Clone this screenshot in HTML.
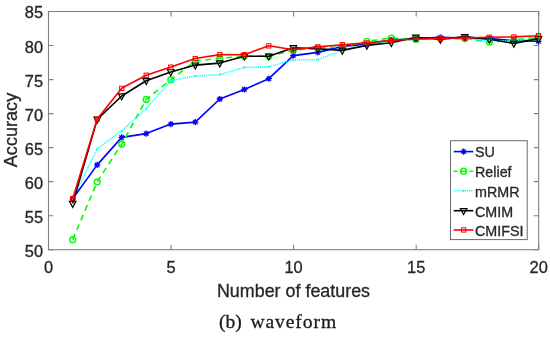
<!DOCTYPE html><html><head><meta charset="utf-8"><title>waveform</title>
<style>html,body{margin:0;padding:0;background:#fff}body{width:550px;height:337px;overflow:hidden;position:relative}svg{position:absolute;left:0;top:0;display:block}text{font-family:"Liberation Sans",Arial,sans-serif;fill:#262626;stroke:#262626;stroke-width:0.3px}.cap{font-family:"Liberation Serif","DejaVu Serif",serif;fill:#1a1a1a;stroke:#1a1a1a;stroke-width:0.3px}</style></head><body>
<svg width="550" height="337" viewBox="0 0 550 337">
<rect x="0" y="0" width="550" height="337" fill="#fff"/>
<g stroke="#808080" stroke-width="1.1" fill="none">
<rect x="48.5" y="11.5" width="490.2" height="238.2"/>
<path d="M48.5 249.7v-4.9M48.5 11.5v4.9"/>
<path d="M171.1 249.7v-4.9M171.1 11.5v4.9"/>
<path d="M293.6 249.7v-4.9M293.6 11.5v4.9"/>
<path d="M416.2 249.7v-4.9M416.2 11.5v4.9"/>
<path d="M538.7 249.7v-4.9M538.7 11.5v4.9"/>
<path d="M48.5 249.7h4.9M538.7 249.7h-4.9"/>
<path d="M48.5 215.7h4.9M538.7 215.7h-4.9"/>
<path d="M48.5 181.6h4.9M538.7 181.6h-4.9"/>
<path d="M48.5 147.6h4.9M538.7 147.6h-4.9"/>
<path d="M48.5 113.6h4.9M538.7 113.6h-4.9"/>
<path d="M48.5 79.6h4.9M538.7 79.6h-4.9"/>
<path d="M48.5 45.5h4.9M538.7 45.5h-4.9"/>
<path d="M48.5 11.5h4.9M538.7 11.5h-4.9"/>
</g>
<g font-size="16.4px">
<text x="43.0" y="257.1" text-anchor="end">50</text>
<text x="43.0" y="223.0" text-anchor="end">55</text>
<text x="43.0" y="188.9" text-anchor="end">60</text>
<text x="43.0" y="154.8" text-anchor="end">65</text>
<text x="43.0" y="120.7" text-anchor="end">70</text>
<text x="43.0" y="86.6" text-anchor="end">75</text>
<text x="43.0" y="52.5" text-anchor="end">80</text>
<text x="43.0" y="18.4" text-anchor="end">85</text>
<text x="48.5" y="272.6" text-anchor="middle">0</text>
<text x="171.1" y="272.6" text-anchor="middle">5</text>
<text x="293.6" y="272.6" text-anchor="middle">10</text>
<text x="416.2" y="272.6" text-anchor="middle">15</text>
<text x="538.7" y="272.6" text-anchor="middle">20</text>
</g>
<text x="293.5" y="297.0" font-size="17.9px" text-anchor="middle">Number of features</text>
<text transform="translate(16.8,130) rotate(-90)" font-size="18.1px" text-anchor="middle">Accuracy</text>
<text class="cap" y="328.0" font-size="19.6px"><tspan x="219.0">(b)</tspan> <tspan x="250.4" letter-spacing="0.9">waveform</tspan></text>
<polyline points="72.7,198.8 97.2,164.9 121.7,137.4 146.2,133.6 170.8,124.1 195.3,122.1 219.8,99.0 244.3,89.5 268.8,78.7 293.3,55.6 317.8,52.4 342.3,46.4 366.8,44.1 391.3,40.0 415.9,38.6 440.4,37.3 464.9,38.0 489.4,38.6 513.9,40.7 538.4,41.3" fill="none" stroke="#0000ff" stroke-width="1.6" stroke-linejoin="round"/>
<path d="M69.6 198.8h6.2M72.7 195.7v6.2M70.5 196.6l4.4 4.4M70.5 201.0l4.4 -4.4" stroke="#0000ff" stroke-width="1.3" fill="none"/>
<path d="M94.1 164.9h6.2M97.2 161.8v6.2M95.0 162.7l4.4 4.4M95.0 167.0l4.4 -4.4" stroke="#0000ff" stroke-width="1.3" fill="none"/>
<path d="M118.6 137.4h6.2M121.7 134.3v6.2M119.5 135.2l4.4 4.4M119.5 139.6l4.4 -4.4" stroke="#0000ff" stroke-width="1.3" fill="none"/>
<path d="M143.1 133.6h6.2M146.2 130.5v6.2M144.0 131.4l4.4 4.4M144.0 135.8l4.4 -4.4" stroke="#0000ff" stroke-width="1.3" fill="none"/>
<path d="M167.7 124.1h6.2M170.8 121.0v6.2M168.6 121.9l4.4 4.4M168.6 126.3l4.4 -4.4" stroke="#0000ff" stroke-width="1.3" fill="none"/>
<path d="M192.2 122.1h6.2M195.3 119.0v6.2M193.1 119.9l4.4 4.4M193.1 124.3l4.4 -4.4" stroke="#0000ff" stroke-width="1.3" fill="none"/>
<path d="M216.7 99.0h6.2M219.8 95.9v6.2M217.6 96.8l4.4 4.4M217.6 101.2l4.4 -4.4" stroke="#0000ff" stroke-width="1.3" fill="none"/>
<path d="M241.2 89.5h6.2M244.3 86.4v6.2M242.1 87.3l4.4 4.4M242.1 91.7l4.4 -4.4" stroke="#0000ff" stroke-width="1.3" fill="none"/>
<path d="M265.7 78.7h6.2M268.8 75.6v6.2M266.6 76.5l4.4 4.4M266.6 80.9l4.4 -4.4" stroke="#0000ff" stroke-width="1.3" fill="none"/>
<path d="M290.2 55.6h6.2M293.3 52.5v6.2M291.1 53.4l4.4 4.4M291.1 57.8l4.4 -4.4" stroke="#0000ff" stroke-width="1.3" fill="none"/>
<path d="M314.7 52.4h6.2M317.8 49.3v6.2M315.6 50.2l4.4 4.4M315.6 54.6l4.4 -4.4" stroke="#0000ff" stroke-width="1.3" fill="none"/>
<path d="M339.2 46.4h6.2M342.3 43.3v6.2M340.1 44.2l4.4 4.4M340.1 48.6l4.4 -4.4" stroke="#0000ff" stroke-width="1.3" fill="none"/>
<path d="M363.7 44.1h6.2M366.8 41.0v6.2M364.6 41.9l4.4 4.4M364.6 46.3l4.4 -4.4" stroke="#0000ff" stroke-width="1.3" fill="none"/>
<path d="M388.2 40.0h6.2M391.3 36.9v6.2M389.1 37.8l4.4 4.4M389.1 42.2l4.4 -4.4" stroke="#0000ff" stroke-width="1.3" fill="none"/>
<path d="M412.8 38.6h6.2M415.9 35.5v6.2M413.7 36.4l4.4 4.4M413.7 40.8l4.4 -4.4" stroke="#0000ff" stroke-width="1.3" fill="none"/>
<path d="M437.3 37.3h6.2M440.4 34.2v6.2M438.2 35.1l4.4 4.4M438.2 39.5l4.4 -4.4" stroke="#0000ff" stroke-width="1.3" fill="none"/>
<path d="M461.8 38.0h6.2M464.9 34.9v6.2M462.7 35.8l4.4 4.4M462.7 40.1l4.4 -4.4" stroke="#0000ff" stroke-width="1.3" fill="none"/>
<path d="M486.3 38.6h6.2M489.4 35.5v6.2M487.2 36.4l4.4 4.4M487.2 40.8l4.4 -4.4" stroke="#0000ff" stroke-width="1.3" fill="none"/>
<path d="M510.8 40.7h6.2M513.9 37.6v6.2M511.7 38.5l4.4 4.4M511.7 42.9l4.4 -4.4" stroke="#0000ff" stroke-width="1.3" fill="none"/>
<path d="M535.3 41.3h6.2M538.4 38.2v6.2M536.2 39.2l4.4 4.4M536.2 43.5l4.4 -4.4" stroke="#0000ff" stroke-width="1.3" fill="none"/>
<polyline points="72.7,239.7 97.2,181.8 121.7,144.1 146.2,99.4 170.8,79.7 195.3,61.0 219.8,58.3 244.3,56.3 268.8,56.3 293.3,50.2 317.8,48.1 342.3,46.8 366.8,41.3 391.3,38.0 415.9,39.3 440.4,38.6 464.9,38.6 489.4,42.0 513.9,40.0 538.4,37.3" fill="none" stroke="#00ff00" stroke-width="1.6" stroke-dasharray="6 4.5" stroke-linejoin="round"/>
<circle cx="72.7" cy="239.7" r="2.9" stroke="#00ff00" stroke-width="1.45" fill="none"/>
<circle cx="97.2" cy="181.8" r="2.9" stroke="#00ff00" stroke-width="1.45" fill="none"/>
<circle cx="121.7" cy="144.1" r="2.9" stroke="#00ff00" stroke-width="1.45" fill="none"/>
<circle cx="146.2" cy="99.4" r="2.9" stroke="#00ff00" stroke-width="1.45" fill="none"/>
<circle cx="170.8" cy="79.7" r="2.9" stroke="#00ff00" stroke-width="1.45" fill="none"/>
<circle cx="195.3" cy="61.0" r="2.9" stroke="#00ff00" stroke-width="1.45" fill="none"/>
<circle cx="219.8" cy="58.3" r="2.9" stroke="#00ff00" stroke-width="1.45" fill="none"/>
<circle cx="244.3" cy="56.3" r="2.9" stroke="#00ff00" stroke-width="1.45" fill="none"/>
<circle cx="268.8" cy="56.3" r="2.9" stroke="#00ff00" stroke-width="1.45" fill="none"/>
<circle cx="293.3" cy="50.2" r="2.9" stroke="#00ff00" stroke-width="1.45" fill="none"/>
<circle cx="317.8" cy="48.1" r="2.9" stroke="#00ff00" stroke-width="1.45" fill="none"/>
<circle cx="342.3" cy="46.8" r="2.9" stroke="#00ff00" stroke-width="1.45" fill="none"/>
<circle cx="366.8" cy="41.3" r="2.9" stroke="#00ff00" stroke-width="1.45" fill="none"/>
<circle cx="391.3" cy="38.0" r="2.9" stroke="#00ff00" stroke-width="1.45" fill="none"/>
<circle cx="415.9" cy="39.3" r="2.9" stroke="#00ff00" stroke-width="1.45" fill="none"/>
<circle cx="440.4" cy="38.6" r="2.9" stroke="#00ff00" stroke-width="1.45" fill="none"/>
<circle cx="464.9" cy="38.6" r="2.9" stroke="#00ff00" stroke-width="1.45" fill="none"/>
<circle cx="489.4" cy="42.0" r="2.9" stroke="#00ff00" stroke-width="1.45" fill="none"/>
<circle cx="513.9" cy="40.0" r="2.9" stroke="#00ff00" stroke-width="1.45" fill="none"/>
<circle cx="538.4" cy="37.3" r="2.9" stroke="#00ff00" stroke-width="1.45" fill="none"/>
<polyline points="72.7,198.8 97.2,148.9 121.7,130.9 146.2,108.5 170.8,80.7 195.3,76.0 219.8,74.6 244.3,67.4 268.8,66.8 293.3,59.7 317.8,59.7 342.3,50.2 366.8,44.1 391.3,40.7 415.9,39.3 440.4,38.6 464.9,38.6 489.4,40.7 513.9,40.7 538.4,38.6" fill="none" stroke="#00ffff" stroke-width="1.6" stroke-dasharray="1 0.9" stroke-linejoin="round"/>
<circle cx="72.7" cy="198.8" r="1.1" fill="#00ffff"/>
<circle cx="97.2" cy="148.9" r="1.1" fill="#00ffff"/>
<circle cx="121.7" cy="130.9" r="1.1" fill="#00ffff"/>
<circle cx="146.2" cy="108.5" r="1.1" fill="#00ffff"/>
<circle cx="170.8" cy="80.7" r="1.1" fill="#00ffff"/>
<circle cx="195.3" cy="76.0" r="1.1" fill="#00ffff"/>
<circle cx="219.8" cy="74.6" r="1.1" fill="#00ffff"/>
<circle cx="244.3" cy="67.4" r="1.1" fill="#00ffff"/>
<circle cx="268.8" cy="66.8" r="1.1" fill="#00ffff"/>
<circle cx="293.3" cy="59.7" r="1.1" fill="#00ffff"/>
<circle cx="317.8" cy="59.7" r="1.1" fill="#00ffff"/>
<circle cx="342.3" cy="50.2" r="1.1" fill="#00ffff"/>
<circle cx="366.8" cy="44.1" r="1.1" fill="#00ffff"/>
<circle cx="391.3" cy="40.7" r="1.1" fill="#00ffff"/>
<circle cx="415.9" cy="39.3" r="1.1" fill="#00ffff"/>
<circle cx="440.4" cy="38.6" r="1.1" fill="#00ffff"/>
<circle cx="464.9" cy="38.6" r="1.1" fill="#00ffff"/>
<circle cx="489.4" cy="40.7" r="1.1" fill="#00ffff"/>
<circle cx="513.9" cy="40.7" r="1.1" fill="#00ffff"/>
<circle cx="538.4" cy="38.6" r="1.1" fill="#00ffff"/>
<polyline points="72.7,203.5 97.2,119.4 121.7,96.0 146.2,80.7 170.8,71.9 195.3,65.1 219.8,63.1 244.3,56.3 268.8,56.3 293.3,47.8 317.8,48.8 342.3,50.4 366.8,45.4 391.3,42.7 415.9,37.3 440.4,39.3 464.9,36.6 489.4,39.3 513.9,43.4 538.4,38.6" fill="none" stroke="#000000" stroke-width="1.6" stroke-linejoin="round"/>
<path d="M69.5 201.4L76.0 201.4L72.7 207.4Z" stroke="#000" stroke-width="1.2" fill="none" stroke-linejoin="miter"/>
<path d="M94.0 117.2L100.5 117.2L97.2 123.2Z" stroke="#000" stroke-width="1.2" fill="none" stroke-linejoin="miter"/>
<path d="M118.5 93.8L125.0 93.8L121.7 99.8Z" stroke="#000" stroke-width="1.2" fill="none" stroke-linejoin="miter"/>
<path d="M143.0 78.6L149.5 78.6L146.2 84.6Z" stroke="#000" stroke-width="1.2" fill="none" stroke-linejoin="miter"/>
<path d="M167.5 69.7L174.0 69.7L170.8 75.7Z" stroke="#000" stroke-width="1.2" fill="none" stroke-linejoin="miter"/>
<path d="M192.0 63.0L198.5 63.0L195.3 68.9Z" stroke="#000" stroke-width="1.2" fill="none" stroke-linejoin="miter"/>
<path d="M216.5 60.9L223.0 60.9L219.8 66.9Z" stroke="#000" stroke-width="1.2" fill="none" stroke-linejoin="miter"/>
<path d="M241.0 54.1L247.5 54.1L244.3 60.1Z" stroke="#000" stroke-width="1.2" fill="none" stroke-linejoin="miter"/>
<path d="M265.5 54.1L272.0 54.1L268.8 60.1Z" stroke="#000" stroke-width="1.2" fill="none" stroke-linejoin="miter"/>
<path d="M290.1 45.7L296.6 45.7L293.3 51.6Z" stroke="#000" stroke-width="1.2" fill="none" stroke-linejoin="miter"/>
<path d="M314.6 46.7L321.1 46.7L317.8 52.7Z" stroke="#000" stroke-width="1.2" fill="none" stroke-linejoin="miter"/>
<path d="M339.1 48.2L345.6 48.2L342.3 54.2Z" stroke="#000" stroke-width="1.2" fill="none" stroke-linejoin="miter"/>
<path d="M363.6 43.3L370.1 43.3L366.8 49.3Z" stroke="#000" stroke-width="1.2" fill="none" stroke-linejoin="miter"/>
<path d="M388.1 40.6L394.6 40.6L391.3 46.6Z" stroke="#000" stroke-width="1.2" fill="none" stroke-linejoin="miter"/>
<path d="M412.6 35.1L419.1 35.1L415.9 41.1Z" stroke="#000" stroke-width="1.2" fill="none" stroke-linejoin="miter"/>
<path d="M437.1 37.2L443.6 37.2L440.4 43.2Z" stroke="#000" stroke-width="1.2" fill="none" stroke-linejoin="miter"/>
<path d="M461.6 34.5L468.1 34.5L464.9 40.4Z" stroke="#000" stroke-width="1.2" fill="none" stroke-linejoin="miter"/>
<path d="M486.1 37.2L492.6 37.2L489.4 43.2Z" stroke="#000" stroke-width="1.2" fill="none" stroke-linejoin="miter"/>
<path d="M510.6 41.2L517.1 41.2L513.9 47.2Z" stroke="#000" stroke-width="1.2" fill="none" stroke-linejoin="miter"/>
<path d="M535.2 36.5L541.7 36.5L538.4 42.5Z" stroke="#000" stroke-width="1.2" fill="none" stroke-linejoin="miter"/>
<polyline points="72.7,198.8 97.2,118.9 121.7,88.3 146.2,75.3 170.8,67.1 195.3,58.5 219.8,54.6 244.3,54.7 268.8,45.8 293.3,49.8 317.8,46.9 342.3,44.7 366.8,42.9 391.3,40.3 415.9,39.3 440.4,38.3 464.9,38.0 489.4,37.3 513.9,36.9 538.4,35.7" fill="none" stroke="#ff0000" stroke-width="1.6" stroke-linejoin="round"/>
<rect x="70.6" y="196.6" width="4.3" height="4.3" stroke="#ff0000" stroke-width="1.0" fill="none"/>
<rect x="95.1" y="116.8" width="4.3" height="4.3" stroke="#ff0000" stroke-width="1.0" fill="none"/>
<rect x="119.6" y="86.2" width="4.3" height="4.3" stroke="#ff0000" stroke-width="1.0" fill="none"/>
<rect x="144.1" y="73.1" width="4.3" height="4.3" stroke="#ff0000" stroke-width="1.0" fill="none"/>
<rect x="168.6" y="65.0" width="4.3" height="4.3" stroke="#ff0000" stroke-width="1.0" fill="none"/>
<rect x="193.1" y="56.4" width="4.3" height="4.3" stroke="#ff0000" stroke-width="1.0" fill="none"/>
<rect x="217.6" y="52.4" width="4.3" height="4.3" stroke="#ff0000" stroke-width="1.0" fill="none"/>
<rect x="242.1" y="52.6" width="4.3" height="4.3" stroke="#ff0000" stroke-width="1.0" fill="none"/>
<rect x="266.6" y="43.7" width="4.3" height="4.3" stroke="#ff0000" stroke-width="1.0" fill="none"/>
<rect x="291.2" y="47.7" width="4.3" height="4.3" stroke="#ff0000" stroke-width="1.0" fill="none"/>
<rect x="315.7" y="44.8" width="4.3" height="4.3" stroke="#ff0000" stroke-width="1.0" fill="none"/>
<rect x="340.2" y="42.6" width="4.3" height="4.3" stroke="#ff0000" stroke-width="1.0" fill="none"/>
<rect x="364.7" y="40.8" width="4.3" height="4.3" stroke="#ff0000" stroke-width="1.0" fill="none"/>
<rect x="389.2" y="38.2" width="4.3" height="4.3" stroke="#ff0000" stroke-width="1.0" fill="none"/>
<rect x="413.7" y="37.2" width="4.3" height="4.3" stroke="#ff0000" stroke-width="1.0" fill="none"/>
<rect x="438.2" y="36.1" width="4.3" height="4.3" stroke="#ff0000" stroke-width="1.0" fill="none"/>
<rect x="462.7" y="35.8" width="4.3" height="4.3" stroke="#ff0000" stroke-width="1.0" fill="none"/>
<rect x="487.2" y="35.1" width="4.3" height="4.3" stroke="#ff0000" stroke-width="1.0" fill="none"/>
<rect x="511.7" y="34.8" width="4.3" height="4.3" stroke="#ff0000" stroke-width="1.0" fill="none"/>
<rect x="536.3" y="33.6" width="4.3" height="4.3" stroke="#ff0000" stroke-width="1.0" fill="none"/>
<rect x="450.5" y="140.7" width="76.7" height="98.9" fill="#fff" stroke="#6a6a6a" stroke-width="1"/>
<path d="M453.7 151.6H473.3" stroke="#0000ff" stroke-width="1.6" fill="none"/>
<path d="M460.5 151.6h6.2M463.6 148.5v6.2M461.4 149.4l4.4 4.4M461.4 153.8l4.4 -4.4" stroke="#0000ff" stroke-width="1.3" fill="none"/>
<text x="475" y="157.4" font-size="14.3px" fill="#000" stroke="#000">SU</text>
<path d="M453.7 171.2H457.3M460.2 171.2H467M469.8 171.2H473.3" stroke="#00ff00" stroke-width="1.6" fill="none"/>
<circle cx="463.6" cy="171.2" r="2.9" stroke="#00ff00" stroke-width="1.45" fill="none"/>
<text x="475" y="177.0" font-size="14.3px" fill="#000" stroke="#000">Relief</text>
<path d="M453.7 190.7H473.3" stroke="#00ffff" stroke-width="1.6" fill="none" stroke-dasharray="1 0.9"/>
<circle cx="463.6" cy="190.7" r="1.1" fill="#00ffff"/>
<text x="475" y="196.5" font-size="14.3px" fill="#000" stroke="#000">mRMR</text>
<path d="M453.7 210.7H473.3" stroke="#000000" stroke-width="1.6" fill="none"/>
<path d="M460.4 208.6L466.9 208.6L463.6 214.5Z" stroke="#000" stroke-width="1.2" fill="none" stroke-linejoin="miter"/>
<text x="475" y="216.5" font-size="14.3px" fill="#000" stroke="#000">CMIM</text>
<path d="M453.7 230.0H473.3" stroke="#ff0000" stroke-width="1.6" fill="none"/>
<rect x="461.5" y="227.8" width="4.3" height="4.3" stroke="#ff0000" stroke-width="1.0" fill="none"/>
<text x="475" y="235.8" font-size="14.3px" fill="#000" stroke="#000">CMIFSI</text>
</svg></body></html>
